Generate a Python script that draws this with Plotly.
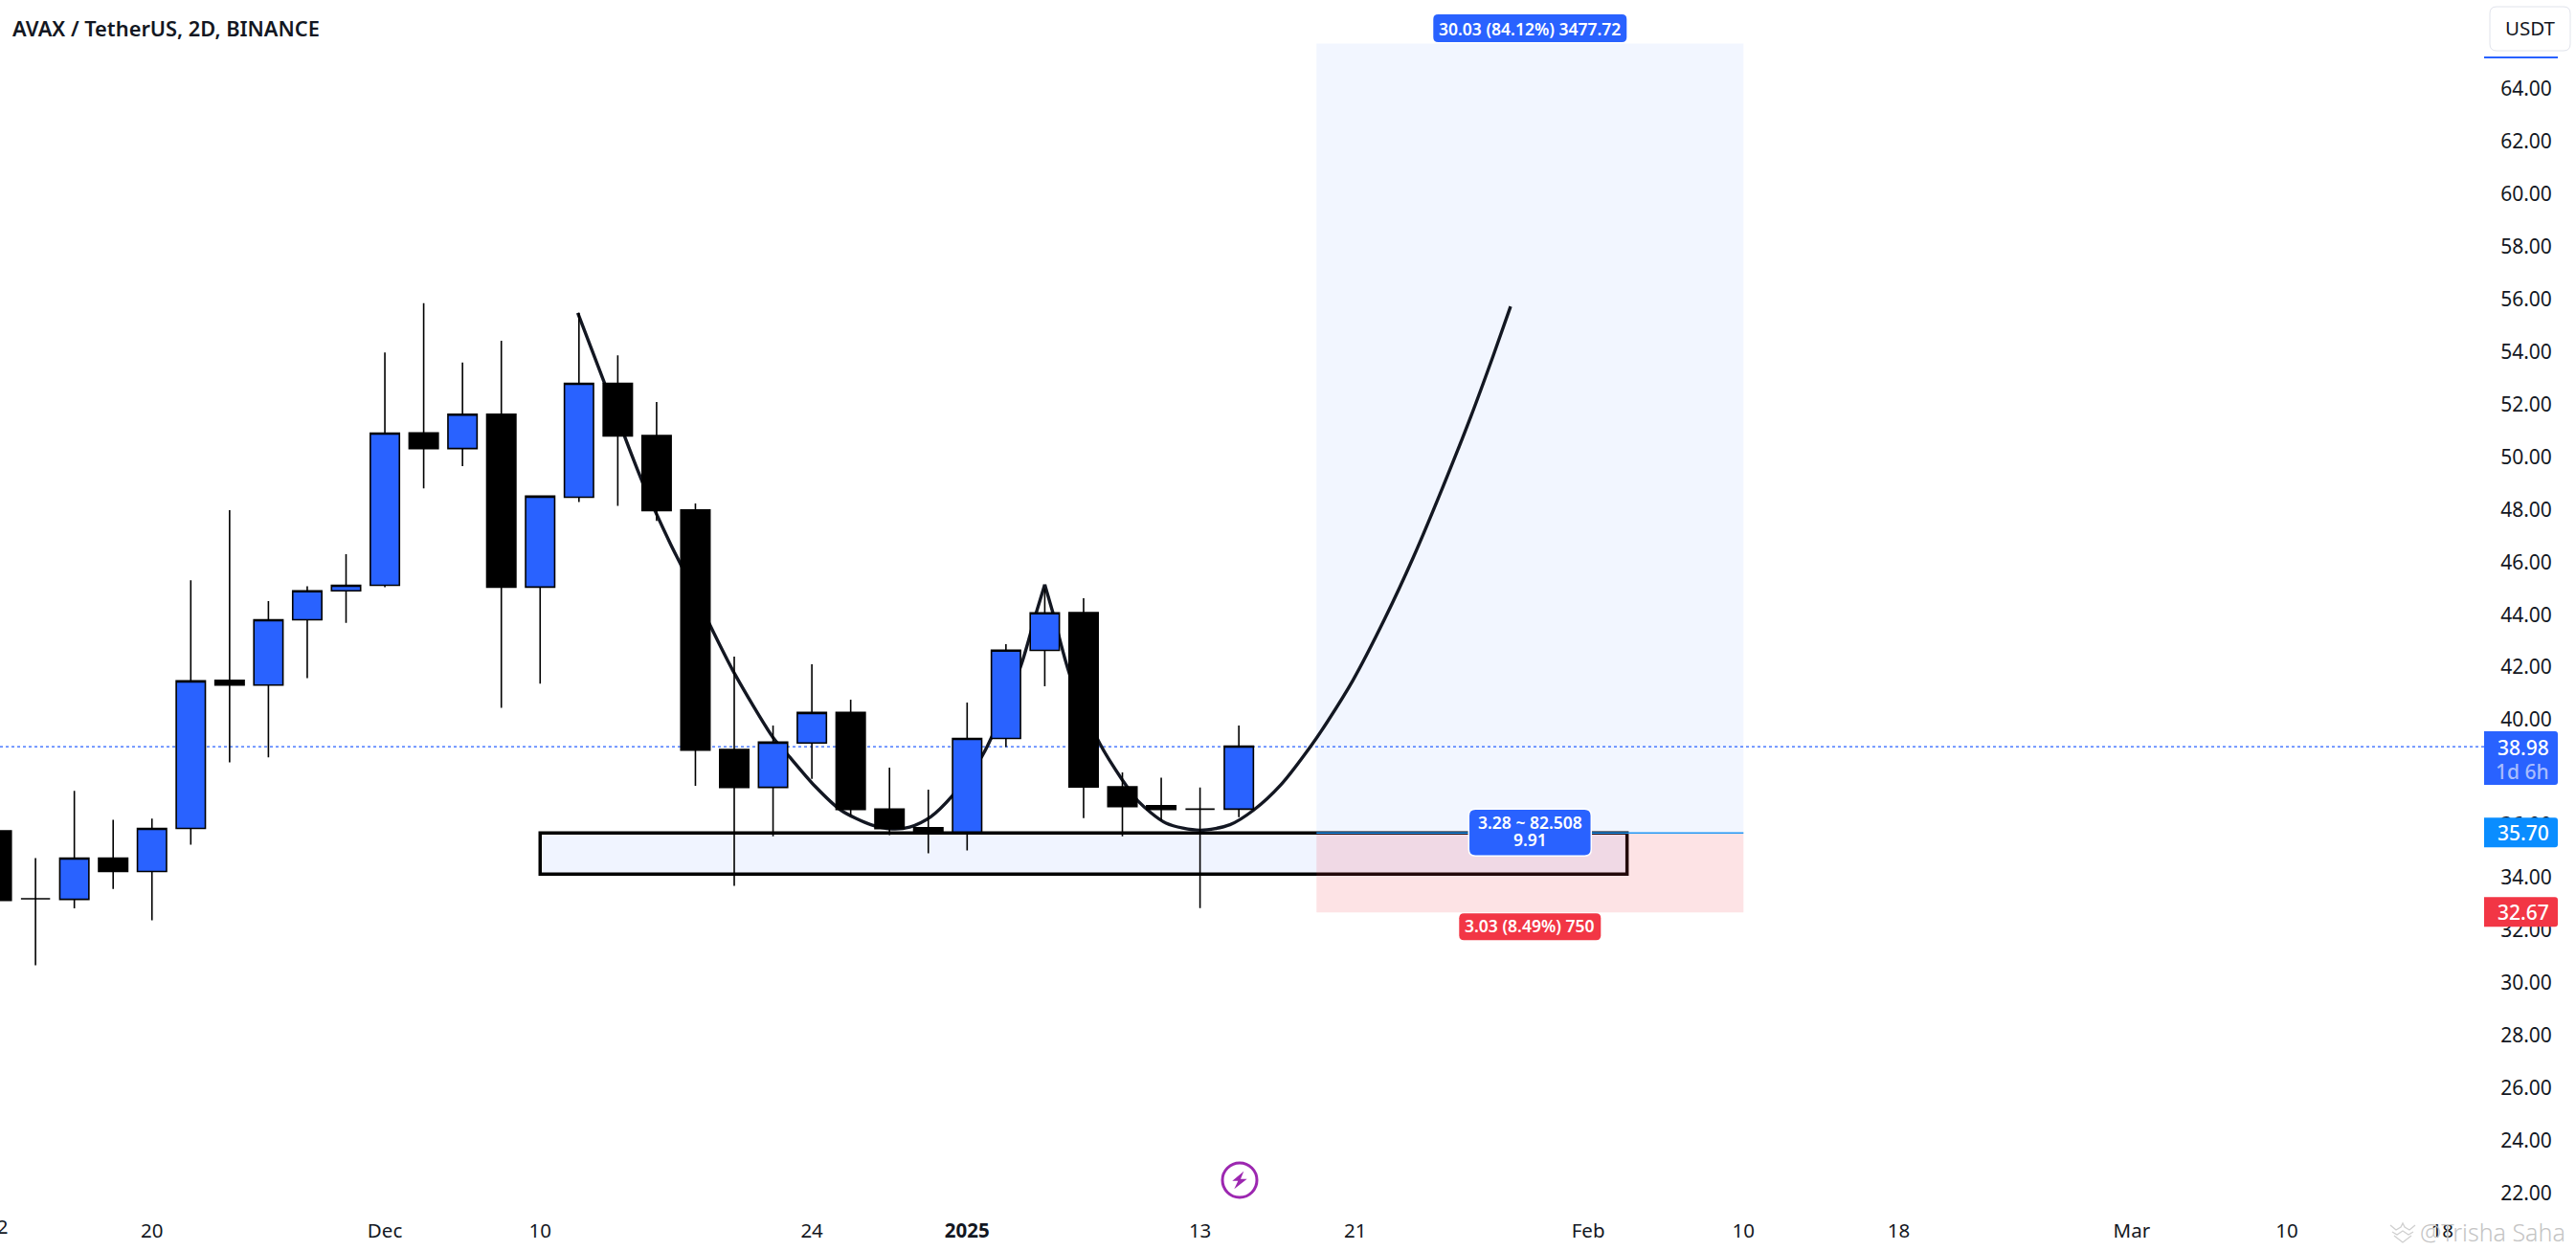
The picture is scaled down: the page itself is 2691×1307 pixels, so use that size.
import plotly.graph_objects as go

# ---------- data ----------
dates = ["2024-11-12","2024-11-14","2024-11-16","2024-11-18","2024-11-20","2024-11-22","2024-11-24","2024-11-26",
         "2024-11-28","2024-11-30","2024-12-02","2024-12-04","2024-12-06","2024-12-08","2024-12-10","2024-12-12",
         "2024-12-14","2024-12-16","2024-12-18","2024-12-20","2024-12-22","2024-12-24","2024-12-26","2024-12-28",
         "2024-12-30","2025-01-01","2025-01-03","2025-01-05","2025-01-07","2025-01-09","2025-01-11","2025-01-13","2025-01-15"]
opens  = [35.78,33.19,33.17,34.74,34.23,35.87,41.50,41.32,43.81,44.91,45.12,50.92,50.32,51.63,45.05,48.47,
          52.80,50.82,47.98,38.87,37.43,39.12,40.28,36.60,35.89,35.73,39.29,42.64,44.08,37.45,36.73,36.60,36.60]
highs  = [35.78,34.74,37.30,36.20,36.24,45.31,47.98,44.52,45.08,46.30,53.98,55.85,53.59,54.42,48.51,55.48,
          53.87,52.09,48.23,42.41,39.78,42.11,40.77,38.18,37.34,40.66,42.88,45.00,44.63,38.00,37.80,37.43,39.78]
lows   = [33.13,30.66,32.83,33.57,32.37,35.25,38.38,38.57,41.59,43.69,45.05,48.81,49.65,40.46,41.38,48.29,
          48.14,47.57,37.49,33.68,35.57,37.75,36.37,35.61,34.92,35.03,38.96,41.28,36.26,35.57,36.17,32.84,36.30]
closes = [33.13,33.19,34.74,34.23,35.87,41.48,41.32,43.81,44.91,45.12,50.91,50.32,51.63,45.05,48.51,52.80,
          50.80,47.96,38.85,37.43,39.15,40.28,36.59,35.86,35.73,39.29,42.65,44.07,37.45,36.70,36.59,36.60,39.00]

curve_left_x = ["2024-12-11 22:30","2024-12-13 08:00","2024-12-15 05:00","2024-12-16 17:00","2024-12-17 06:00",
                "2024-12-18 19:00","2024-12-20 00:00","2024-12-21 23:30","2024-12-22 18:00","2024-12-24 04:00",
                "2024-12-25 12:00","2024-12-27 01:00","2024-12-28 03:00","2024-12-29 01:00","2024-12-30 03:00",
                "2024-12-31 05:30","2025-01-01 18:30","2025-01-03 18:00","2025-01-04 13:30","2025-01-05 00:00"]
curve_left_y = [55.48,52.78,49.16,46.70,45.90,43.54,41.78,39.35,38.68,37.47,36.56,36.01,35.85,35.92,36.31,37.10,38.62,42.02,44.08,45.15]
curve_right_x = ["2025-01-05 00:00","2025-01-05 10:00","2025-01-06 07:00","2025-01-07 20:00","2025-01-09 00:00",
                 "2025-01-09 19:00","2025-01-11 06:00","2025-01-13 00:00","2025-01-14 13:00","2025-01-15 18:00",
                 "2025-01-17 04:00","2025-01-18 17:00","2025-01-19 13:30","2025-01-20 21:00","2025-01-22 12:30",
                 "2025-01-24 00:00","2025-01-25 11:30","2025-01-26 23:00","2025-01-28 02:30","2025-01-29 00:00"]
curve_right_y = [45.15,44.08,41.71,39.10,37.71,36.92,36.07,35.80,36.01,36.56,37.53,39.00,39.93,41.50,43.85,46.20,48.80,51.55,53.85,55.73]

y_ticks = [22,24,26,28,30,32,34,36,38,40,42,44,46,48,50,52,54,56,58,60,62,64]
x_tick_vals = ["2024-11-20","2024-12-02","2024-12-10","2024-12-24","2025-01-01","2025-01-13","2025-01-21",
               "2025-02-02","2025-02-10","2025-02-18","2025-03-02","2025-03-10","2025-03-18"]
x_tick_text = ["20","Dec","10","24","<b>2025</b>","13","21","Feb","10","18","Mar","10","18"]

last_price = 38.98
entry = 35.70
target = 65.73
stop = 32.67
zone_top = 35.70
zone_bottom = 34.13
zone_start, zone_end = "2024-12-10", "2025-02-04"
pos_start, pos_end, pos_mid = "2025-01-19", "2025-02-10", "2025-01-30"

# ---------- layout constants ----------
W, H = 2691, 1307
PW, PH = 2596, 1262
FONT = "Noto Sans"
INK = "#131722"
BLUE = "#2962ff"
RED = "#f23645"
def px(x): return x / PW
def py(y): return 1 - y / PH

def rpath(x0, ytop, x1, ybot, r=5):
    """rounded rectangle path, y positive up, pixels from the anchor"""
    return (f"M{x0+r},{ytop} L{x1-r},{ytop} Q{x1},{ytop} {x1},{ytop-r} L{x1},{ybot+r} Q{x1},{ybot} {x1-r},{ybot} "
            f"L{x0+r},{ybot} Q{x0},{ybot} {x0},{ybot+r} L{x0},{ytop-r} Q{x0},{ytop} {x0+r},{ytop} Z")

fig = go.Figure()
fig.add_trace(go.Scatter(x=curve_left_x, y=curve_left_y, mode="lines", hoverinfo="skip",
                         line=dict(color=INK, width=3.4, shape="spline", smoothing=0.8)))
fig.add_trace(go.Scatter(x=curve_right_x, y=curve_right_y, mode="lines", hoverinfo="skip",
                         line=dict(color=INK, width=3.4, shape="spline", smoothing=0.8)))
fig.add_trace(go.Candlestick(x=dates, open=opens, high=highs, low=lows, close=closes, yaxis="y2",
                             whiskerwidth=0,
                             increasing=dict(fillcolor=BLUE, line=dict(color="#000000", width=1.6)),
                             decreasing=dict(fillcolor="#000000", line=dict(color="#000000", width=1.6))))

shapes = [
    dict(type="line", xref="paper", x0=0, x1=1, yref="y", y0=last_price, y1=last_price, layer="below",
         line=dict(color=BLUE, width=1.2, dash="dot")),
    dict(type="rect", xref="x", x0=zone_start, x1=zone_end, yref="y", y0=zone_bottom, y1=zone_top, layer="below",
         fillcolor="rgba(41,98,255,0.07)", line=dict(color="#000000", width=3.5)),
    dict(type="rect", xref="x", x0=pos_start, x1=pos_end, yref="y", y0=entry, y1=target, layer="below",
         fillcolor="rgba(41,98,255,0.06)", line=dict(width=0)),
    dict(type="rect", xref="x", x0=pos_start, x1=pos_end, yref="y", y0=stop, y1=entry, layer="below",
         fillcolor="rgba(242,54,69,0.14)", line=dict(width=0)),
    dict(type="line", xref="x", x0=pos_start, x1=pos_end, yref="y", y0=entry, y1=entry, layer="below",
         line=dict(color="#2196f3", width=1.5)),
]
# price tags on the scale
for val, top, bot, col in [(last_price, 16, -40, BLUE), (entry, 16, -15, "#0a8dff"), (stop, 16, -15, RED)]:
    x0, x1 = -1, 76
    r = 3
    shapes.append(dict(type="path", xref="paper", xsizemode="pixel", xanchor=1, yref="y", ysizemode="pixel", yanchor=val,
                       path=f"M{x0},{top} L{x1-r},{top} Q{x1},{top} {x1},{top-r} L{x1},{bot+r} Q{x1},{bot} {x1-r},{bot} L{x0},{bot} Z",
                       fillcolor=col, line=dict(width=0)))
# position badges
shapes.append(dict(type="path", xref="x", xsizemode="pixel", xanchor=pos_mid, yref="y", ysizemode="pixel", yanchor=target,
                   path=rpath(-101, 30.5, 101, 1.5), fillcolor=BLUE, line=dict(width=0)))
shapes.append(dict(type="path", xref="x", xsizemode="pixel", xanchor=pos_mid, yref="y", ysizemode="pixel", yanchor=stop,
                   path=rpath(-74, -1, 74, -29), fillcolor=RED, line=dict(width=0)))
shapes.append(dict(type="path", xref="x", xsizemode="pixel", xanchor=pos_mid, yref="y", ysizemode="pixel", yanchor=entry,
                   path=rpath(-64, 25, 64, -24, 7), fillcolor=BLUE, line=dict(color="#ffffff", width=1.5)))
# USDT button and the rule under it
shapes.append(dict(type="path", xref="paper", xsizemode="pixel", xanchor=1, yref="paper", ysizemode="pixel", yanchor=1,
                   path=rpath(5, -7, 89, -53, 7), fillcolor="#ffffff", line=dict(color="#e0e3eb", width=1)))
shapes.append(dict(type="line", xref="paper", xsizemode="pixel", xanchor=1, x0=-1, x1=76, yref="paper", ysizemode="pixel", yanchor=1,
                   y0=-60, y1=-60, line=dict(color=BLUE, width=2)))
# lightning icon
shapes.append(dict(type="circle", xref="paper", xsizemode="pixel", xanchor=px(1295), x0=-18, x1=18,
                   yref="paper", ysizemode="pixel", yanchor=py(1233), y0=-18, y1=18,
                   fillcolor="rgba(0,0,0,0)", line=dict(color="#9c27b0", width=3)))
shapes.append(dict(type="path", xref="paper", xsizemode="pixel", xanchor=px(1295),
                   yref="paper", ysizemode="pixel", yanchor=py(1233),
                   path="M4.3,9.3 L-7.7,-0.7 L-1.7,-0.7 L-5.7,-9.3 L7.7,1.3 L1,1.3 Z", fillcolor="#9c27b0", line=dict(width=0)))
# watermark mark
shapes.append(dict(type="path", xref="paper", xsizemode="pixel", xanchor=px(2510),
                   yref="paper", ysizemode="pixel", yanchor=py(1287),
                   path="M-13,7 L-7,2 L-2,5 L0,9 L2,5 L7,2 L13,7 M-11,0 L-6,-3 L0,1 L6,-3 L11,0 M-9,-4 L0,-11 L9,-4",
                   line=dict(color="#cfcfcf", width=1.3)))

def text(t, x, y, size=17.5, color="#ffffff", weight=600, xref="x", yref="y", xanchor="center", yshift=0, xshift=0):
    return dict(text=t, x=x, y=y, xref=xref, yref=yref, xanchor=xanchor, yanchor="middle", showarrow=False,
                yshift=yshift, xshift=xshift, borderpad=0, borderwidth=0,
                font=dict(family=FONT, size=size, color=color, weight=weight))

annotations = [
    text("AVAX / TetherUS, 2D, BINANCE", px(13), py(29), size=21.8, color=INK, weight=600, xref="paper", yref="paper", xanchor="left"),
    text("30.03 (84.12%) 3477.72", pos_mid, target, yshift=16),
    text("3.03 (8.49%) 750", pos_mid, stop, yshift=-14),
    text("3.28 ~ 82.508", pos_mid, entry, size=17.5, yshift=11),
    text("9.91", pos_mid, entry, size=17.5, yshift=-7),
    text("38.98", 1, last_price, size=21, weight=500, xref="paper", xanchor="right", xshift=67, yshift=-1),
    text("1d 6h", 1, last_price, size=21, weight=500, color="#a8bdfd", xref="paper", xanchor="right", xshift=67, yshift=-26),
    text("35.70", 1, entry, size=21, weight=500, xref="paper", xanchor="right", xshift=67),
    text("32.67", 1, stop, size=21, weight=500, xref="paper", xanchor="right", xshift=67),
    text("USDT", px(2643), py(29), size=20.5, color=INK, weight=400, xref="paper", yref="paper"),
    text("12", px(-4), py(1281), size=20.5, color=INK, weight=400, xref="paper", yref="paper"),
    text("@Trisha Saha", px(2604), py(1287), size=25, color="#c4c4c4", weight=300, xref="paper", yref="paper"),
]

yrange = [21.43, 67.387]
fig.update_layout(
    width=W, height=H, margin=dict(l=0, r=W-PW, t=0, b=H-PH),
    paper_bgcolor="#ffffff", plot_bgcolor="#ffffff", showlegend=False, hovermode=False, boxgap=0.25, boxgroupgap=0,
    font=dict(family=FONT, color=INK),
    xaxis=dict(type="date", range=["2024-11-12 04:05", "2025-03-20 05:00"], rangeslider=dict(visible=False),
               showgrid=False, zeroline=False, showline=False, tickmode="array",
               tickvals=x_tick_vals, ticktext=x_tick_text, tickangle=0, ticks="outside", ticklen=5,
               tickcolor="rgba(0,0,0,0)", tickfont=dict(family=FONT, size=20.5, color=INK)),
    yaxis=dict(side="right", range=yrange, showgrid=False, zeroline=False, showline=False, tickmode="array",
               tickvals=y_ticks, ticktext=[f"{v:.2f}" for v in y_ticks], ticks="outside", ticklen=11,
               tickcolor="rgba(0,0,0,0)", tickfont=dict(family=FONT, size=21, color=INK)),
    yaxis2=dict(overlaying="y", side="right", range=yrange, visible=False),
    shapes=shapes, annotations=annotations,
)
fig.write_html("out.html", config=dict(displayModeBar=False),
               post_script="document.body.style.margin='0';document.body.style.overflow='hidden';")
